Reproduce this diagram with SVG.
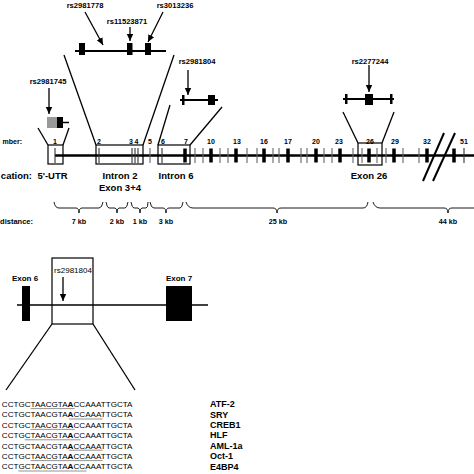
<svg xmlns="http://www.w3.org/2000/svg" width="474" height="474" viewBox="0 0 474 474">
<defs>
<marker id="ah" markerWidth="8" markerHeight="8" refX="7" refY="4" orient="auto" markerUnits="userSpaceOnUse">
<path d="M0,0.8 L7,4 L0,7.2 Z" fill="#000"/>
</marker>
<style>
text{font-family:"Liberation Sans",Arial,sans-serif;fill:#000}
.b{font-weight:bold}
.rs{font-size:7.6px;font-weight:bold;text-anchor:middle}
.num{font-size:7px;font-weight:bold;text-anchor:middle}
.loc{font-size:9.5px;font-weight:bold;text-anchor:middle}
.kb{font-size:7.2px;font-weight:bold;text-anchor:middle}
.seq{font-size:8.1px}
.tf{font-size:9px;font-weight:bold}
.ln{stroke:#000;stroke-width:1.3;fill:none}
.arr{stroke:#000;stroke-width:1.3;fill:none;marker-end:url(#ah)}
.gene{stroke:#000;stroke-width:2;fill:none}
.box{stroke:#000;stroke-width:1.2;fill:none}
.thin{stroke:#666;stroke-width:1.1}
.thick{stroke:#000;stroke-width:3.5}
.brace{stroke:#000;stroke-width:0.9;fill:none}
.ul{stroke:#888;stroke-width:0.9}
</style>
</defs>

<!-- side labels -->
<g id="axis-labels">
<text class="b" x="22" y="144" font-size="7" text-anchor="end">mber:</text>
<text class="b" x="32" y="178.5" font-size="9.5" text-anchor="end">cation:</text>
<text class="b" x="33" y="224" font-size="7.5" text-anchor="end">distance:</text>
</g>

<!-- main gene -->
<g id="gene">
<line x1="55" y1="155.5" x2="474" y2="155.5" stroke="#000" stroke-width="2.5"/>
<g class="thin">
<line x1="55" y1="148" x2="55" y2="163" stroke="#333"/>
<line x1="99" y1="148" x2="99" y2="163" stroke="#333"/>
<line x1="132" y1="148" x2="132" y2="163" stroke="#333"/>
<line x1="135" y1="148" x2="135" y2="163" stroke="#333"/>
<line x1="138" y1="148" x2="138" y2="163" stroke="#333"/>
<line x1="150" y1="148" x2="150" y2="163"/>
<line x1="162" y1="148" x2="162" y2="163" stroke="#333"/>
<line x1="195" y1="148" x2="195" y2="163"/>
<line x1="203" y1="148" x2="203" y2="163"/>
<line x1="220" y1="148" x2="220" y2="163"/>
<line x1="228" y1="148" x2="228" y2="163"/>
<line x1="247" y1="148" x2="247" y2="163"/>
<line x1="257" y1="148" x2="257" y2="163"/>
<line x1="273" y1="148" x2="273" y2="163"/>
<line x1="279" y1="148" x2="279" y2="163"/>
<line x1="301" y1="148" x2="301" y2="163"/>
<line x1="307" y1="148" x2="307" y2="163"/>
<line x1="324" y1="148" x2="324" y2="163"/>
<line x1="332" y1="148" x2="332" y2="163"/>
<line x1="353" y1="148" x2="353" y2="163"/>
<line x1="362" y1="148" x2="362" y2="163"/>
<line x1="377" y1="148" x2="377" y2="163"/>
<line x1="386" y1="148" x2="386" y2="163"/>
<line x1="403" y1="148" x2="403" y2="163"/>
<line x1="419" y1="148" x2="419" y2="163"/>
<line x1="464" y1="148" x2="464" y2="163" stroke="#333"/>
</g>
<g class="thick">
<line x1="185" y1="148.5" x2="185" y2="162.5"/>
<line x1="211" y1="148.5" x2="211" y2="162.5"/>
<line x1="236" y1="148.5" x2="236" y2="162.5"/>
<line x1="264" y1="148.5" x2="264" y2="162.5"/>
<line x1="288" y1="148.5" x2="288" y2="162.5"/>
<line x1="316" y1="148.5" x2="316" y2="162.5"/>
<line x1="340" y1="148.5" x2="340" y2="162.5"/>
<line x1="369" y1="148.5" x2="369" y2="162.5"/>
<line x1="394" y1="148.5" x2="394" y2="162.5"/>
<line x1="427" y1="148.5" x2="427" y2="162.5"/>
<line x1="454" y1="148.5" x2="454" y2="162.5"/>
</g>
<line x1="423" y1="181" x2="444" y2="133" stroke="#000" stroke-width="2"/>
<line x1="433" y1="181" x2="455" y2="133" stroke="#000" stroke-width="2"/>
<g>
<text class="num" x="55" y="144">1</text>
<text class="num" x="99" y="144">2</text>
<text class="num" x="131" y="144">3</text>
<text class="num" x="136.5" y="144">4</text>
<text class="num" x="150" y="144">5</text>
<text class="num" x="163" y="144">6</text>
<text class="num" x="186" y="144">7</text>
<text class="num" x="211" y="144">10</text>
<text class="num" x="237" y="144">13</text>
<text class="num" x="264" y="144">16</text>
<text class="num" x="288" y="144">17</text>
<text class="num" x="316" y="144">20</text>
<text class="num" x="339" y="144">23</text>
<text class="num" x="370" y="144">26</text>
<text class="num" x="395" y="144">29</text>
<text class="num" x="427" y="144">32</text>
<text class="num" x="464" y="144">51</text>
</g>
</g>

<!-- region boxes -->
<g id="utr5">
<rect class="box" x="48" y="145" width="15" height="19"/>
<text class="loc" x="52.5" y="178.5">5'-UTR</text>
</g>
<g id="intron2">
<rect class="box" x="96" y="145" width="47" height="19"/>
<text class="loc" x="120" y="178.5">Intron 2</text>
<text class="loc" x="120" y="190.5">Exon 3+4</text>
</g>
<g id="intron6">
<rect class="box" x="158" y="145" width="32" height="19"/>
<text class="loc" x="176" y="178.5">Intron 6</text>
</g>
<g id="exon26">
<rect class="box" x="358" y="143" width="24" height="22"/>
<text class="loc" x="369" y="178.5">Exon 26</text>
</g>

<!-- detail: 5'UTR -->
<g id="detail-utr">
<rect x="47" y="117" width="10" height="11" fill="#999"/>
<rect x="57" y="117" width="6" height="11" fill="#000"/>
<line x1="63" y1="122.5" x2="69" y2="122.5" stroke="#000" stroke-width="1.5"/>
<text class="rs" x="48" y="84">rs2981745</text>
</g>

<!-- detail: intron 2 -->
<g id="detail-intron2">
<line class="gene" x1="75" y1="51" x2="166" y2="51"/>
<rect x="79" y="43" width="6" height="12" fill="#000"/>
<rect x="127" y="43" width="5.5" height="12" fill="#000"/>
<rect x="145" y="43" width="6" height="12" fill="#000"/>
<text class="rs" x="85" y="8">rs2981778</text>
<text class="rs" x="127" y="24">rs11523871</text>
<text class="rs" x="175" y="8">rs3013236</text>
</g>

<!-- detail: intron 6 -->
<g id="detail-intron6">
<line class="gene" x1="180" y1="100" x2="218" y2="100"/>
<rect x="182" y="95" width="2.5" height="10" fill="#000"/>
<rect x="208" y="95" width="7" height="10" fill="#000"/>
<text class="rs" x="197" y="64">rs2981804</text>
</g>

<!-- detail: exon 26 -->
<g id="detail-exon26">
<line class="gene" x1="343" y1="99" x2="394" y2="99"/>
<rect x="345" y="94" width="2.5" height="10" fill="#000"/>
<rect x="390" y="94" width="2.5" height="10" fill="#000"/>
<rect x="365" y="94" width="8" height="11" fill="#000"/>
<text class="rs" x="370" y="64">rs2277244</text>
</g>

<!-- distances -->
<g id="distances">
<path class="brace" d="M54,202 Q55,208 59,208 L76,208 Q79,208 79,213 Q79,208 82,208 L99,208 Q102,208 103,202"/>
<path class="brace" d="M106,202 Q107,208 109,208 L115,208 Q117,208 117,213 Q117,208 119,208 L125,208 Q127,208 128,202"/>
<path class="brace" d="M131,202 Q132,208 134,208 L138,208 Q140,208 140,213 Q140,208 142,208 L146,208 Q148,208 148,202"/>
<path class="brace" d="M150,202 Q151,208 154,208 L163,208 Q166,208 166,213 Q166,208 169,208 L180,208 Q182,208 183,202"/>
<path class="brace" d="M186,202 Q188,208 193,208 L273,208 Q277,208 277,213 Q277,208 281,208 L363,208 Q367,208 368,202"/>
<path class="brace" d="M373,202 Q375,208 380,208 L444,208 Q448,208 448,213 Q448,208 452,208 L474,208"/>
<text class="kb" x="79" y="224">7 kb</text>
<text class="kb" x="117" y="224">2 kb</text>
<text class="kb" x="140" y="224">1 kb</text>
<text class="kb" x="166" y="224">3 kb</text>
<text class="kb" x="278" y="224">25 kb</text>
<text class="kb" x="448" y="224">44 kb</text>
</g>

<!-- lower zoom of intron 6 -->
<g id="intron6-zoom">
<line x1="17" y1="305" x2="208" y2="305" stroke="#000" stroke-width="1.5"/>
<rect x="22" y="286" width="8" height="35" fill="#000"/>
<rect x="166" y="286" width="26" height="35" fill="#000"/>
<rect class="box" x="52" y="258" width="41" height="66"/>
<text class="b" x="25" y="281" font-size="8" text-anchor="middle">Exon 6</text>
<text class="b" x="179" y="281" font-size="8" text-anchor="middle">Exon 7</text>
<text x="73" y="273" font-size="8" text-anchor="middle">rs2981804</text>
</g>

<!-- sequences -->
<g id="sequences">
<g class="ul">
<line x1="30.6" y1="408.6" x2="74.7" y2="408.6"/>
<line x1="68.9" y1="419" x2="102.6" y2="419"/>
<line x1="30.6" y1="429.4" x2="74.7" y2="429.4"/>
<line x1="24.7" y1="439.8" x2="80.5" y2="439.8"/>
<line x1="68.9" y1="450.2" x2="102.6" y2="450.2"/>
<line x1="30.6" y1="460.6" x2="102.6" y2="460.6"/>
<line x1="18.4" y1="471" x2="86.4" y2="471"/>
</g>
<text class="seq" x="1.8" y="407">CCTGCTAACGTA<tspan font-weight="bold">A</tspan>CCAAATTGCTA</text>
<text class="seq" x="1.8" y="417.4">CCTGCTAACGTA<tspan font-weight="bold">A</tspan>CCAAATTGCTA</text>
<text class="seq" x="1.8" y="427.8">CCTGCTAACGTA<tspan font-weight="bold">A</tspan>CCAAATTGCTA</text>
<text class="seq" x="1.8" y="438.2">CCTGCTAACGTA<tspan font-weight="bold">A</tspan>CCAAATTGCTA</text>
<text class="seq" x="1.8" y="448.6">CCTGCTAACGTA<tspan font-weight="bold">A</tspan>CCAAATTGCTA</text>
<text class="seq" x="1.8" y="459">CCTGCTAACGTA<tspan font-weight="bold">A</tspan>CCAAATTGCTA</text>
<text class="seq" x="1.8" y="469.4">CCTGCTAACGTA<tspan font-weight="bold">A</tspan>CCAAATTGCTA</text>
<text class="tf" x="210" y="407.2">ATF-2</text>
<text class="tf" x="210" y="417.6">SRY</text>
<text class="tf" x="210" y="428">CREB1</text>
<text class="tf" x="210" y="438.4">HLF</text>
<text class="tf" x="210" y="448.8">AML-1a</text>
<text class="tf" x="210" y="459.2">Oct-1</text>
<text class="tf" x="210" y="469.6">E4BP4</text>
</g>

<!-- connectors -->
<g id="connectors">
<line class="ln" x1="38" y1="128" x2="48" y2="145"/>
<line class="ln" x1="69" y1="128" x2="63" y2="145"/>
<line class="ln" x1="64" y1="55" x2="96" y2="145"/>
<line class="ln" x1="174" y1="55" x2="143" y2="145"/>
<line class="ln" x1="170" y1="105" x2="158" y2="145"/>
<line class="ln" x1="222" y1="107" x2="190" y2="145"/>
<line class="ln" x1="343" y1="112" x2="358" y2="143"/>
<line class="ln" x1="394" y1="112" x2="382" y2="143"/>
<line class="ln" x1="52" y1="324" x2="6" y2="390"/>
<line class="ln" x1="93" y1="324" x2="135" y2="390"/>
<line class="arr" x1="85" y1="12" x2="103" y2="45"/>
<line class="arr" x1="130" y1="27" x2="130" y2="41"/>
<line class="arr" x1="163" y1="12" x2="148" y2="42"/>
<line class="arr" x1="188" y1="70" x2="188" y2="95"/>
<line class="arr" x1="49" y1="88" x2="49" y2="114"/>
<line class="arr" x1="369" y1="65" x2="369" y2="92"/>
<line class="arr" x1="63" y1="277" x2="63" y2="301"/>
</g>
</svg>
